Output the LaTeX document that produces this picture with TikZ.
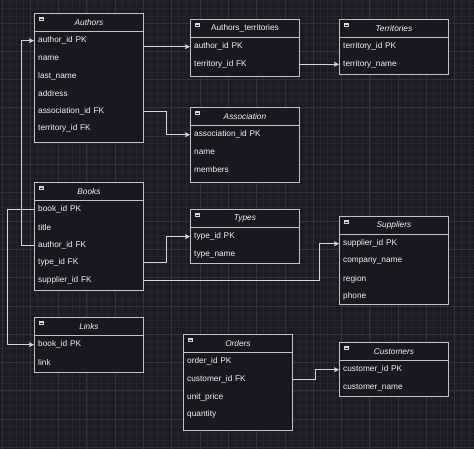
\documentclass[tikz,border=0pt]{standalone}
\usepackage{fontspec}
\setmainfont{Liberation Sans}
\usetikzlibrary{arrows.meta,calc}
\definecolor{bg}{HTML}{1C1A22}
\definecolor{gridminor}{HTML}{27242E}
\definecolor{gridmajor}{HTML}{34313C}
\definecolor{boxc}{HTML}{C2C2C6}
\definecolor{tblfill}{HTML}{19171F}
\definecolor{txt}{HTML}{F4F4F4}
\definecolor{linec}{HTML}{D6D6D8}
\tikzset{
  tbl/.style={draw=boxc, line width=0.9pt, fill=tblfill, inner sep=0pt, anchor=north west, minimum width=109pt},
  hdr/.style={draw=boxc, line width=0.9pt, fill=tblfill, inner sep=0pt, anchor=north west,
    minimum width=109pt, minimum height=17.5pt, font=\fontsize{8.3}{9}\selectfont\itshape, text=txt},
  rowc/.style={anchor=west, inner xsep=4pt, inner ysep=0pt, text width=101pt, align=left,
    minimum height=17.6pt, font=\fontsize{8.3}{9}\selectfont, text=txt},
  conn/.style={draw=linec, line width=0.8pt, -{Stealth[length=5pt,width=5pt,inset=1pt]}},
}
\newcommand{\ertab}[6]{%
  \node[tbl, minimum height={#4-#3}] (#1-box) at (#2,#3) {};
  \node[hdr] (#1) at (#2,#3) {#5};
  \fill[white!85!black] ($(#1.north west)+(4.5,3.8)$) rectangle ++(5,4.2);
  \draw[bg, line width=0.8pt] ($(#1.north west)+(5.5,5.9)$) -- ++(3,0);
  \foreach \t [count=\i] in {#6} {
    \node[rowc] (#1-\i) at ($(#1.south west)+(0,{9.3+(\i-1)*17.6})$) {\t};
  }%
}
\begin{document}
\begin{tikzpicture}[x=1pt,y=-1pt]
\useasboundingbox (0,0) rectangle (474,448);
\fill[bg] (-5,-5) rectangle (479,453);
\begin{scope}
  \clip (-5,-5) rectangle (479,453);
  \draw[gridminor, line width=0.4pt, shift={(1.8,22.8)}, step=7.075pt] (-10,-30) grid (480,440);
  \draw[gridmajor, line width=0.5pt, shift={(1.8,22.8)}, step=28.3pt] (-30,-30) grid (480,440);
\end{scope}

\ertab{authors}{34}{13}{142}{Authors}{author\_id PK, name, last\_name, address, association\_id FK, territory\_id FK}
\ertab{at}{190}{19}{76}{\upshape Authors\_territories}{author\_id PK, territory\_id FK}
\ertab{terr}{339}{19}{74}{Territories}{territory\_id PK, territory\_name}
\ertab{assoc}{190}{107}{182}{Association}{association\_id PK, name, members}
\ertab{books}{34}{182}{290}{Books}{book\_id PK, title, author\_id FK, type\_id FK, supplier\_id FK}
\ertab{types}{190}{209}{263}{Types}{type\_id PK, type\_name}
\ertab{supp}{339}{216}{304}{Suppliers}{supplier\_id PK, company\_name, region, phone}
\ertab{links}{34}{317}{372}{Links}{book\_id PK, link}
\ertab{orders}{183}{334}{430}{Orders}{order\_id PK, customer\_id FK, unit\_price, quantity}
\ertab{cust}{339}{342}{396}{Customers}{customer\_id PK, customer\_name}

\draw[conn] (books-3.west) -- ++(-13,0) |- (authors-1.west);
\draw[conn] (books-1.west) -- ++(-27,0) |- (links-1.west);
\draw[conn] (authors-box.east |- at-1.west) -- (at-1.west);
\draw[conn] (authors-5.east) -- ++(23,0) |- (assoc-1.west);
\draw[conn] (at-2.east) -- (terr-2.west);
\draw[conn] (books-4.east) -- ++(23,0) |- (types-1.west);
\draw[conn] (books-5.east) -- ++(176,0) |- (supp-1.west);
\draw[conn] (orders-2.east) -- ++(23,0) |- (cust-1.west);
\end{tikzpicture}
\end{document}
